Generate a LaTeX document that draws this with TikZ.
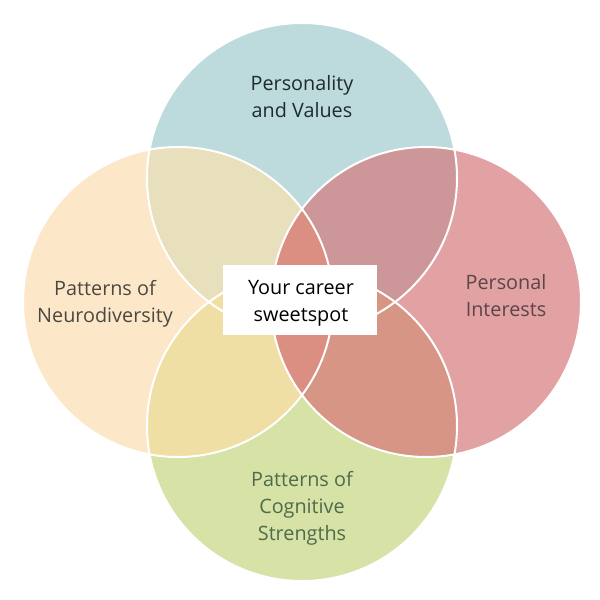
\documentclass[tikz,border=0pt]{standalone}
\usepackage{fontspec}
\setmainfont{Open Sans}
\definecolor{cTop}{HTML}{BDDADC}
\definecolor{cLeft}{HTML}{FDE7C9}
\definecolor{cRight}{HTML}{E2A2A4}
\definecolor{cBot}{HTML}{D6E2A6}
\definecolor{cTL}{HTML}{E8DFBD}
\definecolor{cTR}{HTML}{CD9698}
\definecolor{cBL}{HTML}{F0DFA5}
\definecolor{cBR}{HTML}{D69585}
\definecolor{cMid}{HTML}{DA8F82}
\definecolor{tTop}{HTML}{1F2B2E}
\definecolor{tLeft}{HTML}{4A4840}
\definecolor{tRight}{HTML}{5B4547}
\definecolor{tBot}{HTML}{4F6B4B}
\tikzset{
  lbl/.style={align=center,font=\fontsize{19.8}{27}\selectfont,inner sep=0pt},
  ring/.style={draw=white,line width=2pt}
}
\begin{document}
\begin{tikzpicture}[x=1pt,y=-1pt]
\useasboundingbox[fill=white] (0,0) rectangle (600,600);
\def\R{155}
\coordinate (T) at (302,178);
\coordinate (L) at (178,302);
\coordinate (Rc) at (426,302);
\coordinate (B) at (302,426);
% base fills
\fill[cTop] (T) circle (\R);
\fill[cLeft] (L) circle (\R);
\fill[cRight] (Rc) circle (\R);
\fill[cBot] (B) circle (\R);
% pair overlaps
\begin{scope}\clip (T) circle (\R); \fill[cTL] (L) circle (\R); \end{scope}
\begin{scope}\clip (T) circle (\R); \fill[cTR] (Rc) circle (\R); \end{scope}
\begin{scope}\clip (B) circle (\R); \fill[cBL] (L) circle (\R); \end{scope}
\begin{scope}\clip (B) circle (\R); \fill[cBR] (Rc) circle (\R); \end{scope}
\begin{scope}\clip (L) circle (\R); \fill[cMid] (Rc) circle (\R); \end{scope}
% outlines
\draw[ring] (T) circle (\R);
\draw[ring] (L) circle (\R);
\draw[ring] (Rc) circle (\R);
\draw[ring] (B) circle (\R);
% labels
\node[lbl,text=tTop] (top) at (302,97) {Personality\\and Values};
\node[lbl,text=tLeft] (left) at (105,304) {Patterns of\\Neurodiversity};
\node[lbl,text=tRight] (right) at (506,296) {Personal\\Interests};
\node[lbl,text=tBot] (bot) at (302,508.5) {Patterns of\\Cognitive\\Strengths};
\node[fill=white,minimum width=154pt,minimum height=70pt,inner sep=0pt] (box) at (300,300) {};
\node[lbl,text=black] (sweet) at (301,303) {Your career\\sweetspot};
\end{tikzpicture}
\end{document}
